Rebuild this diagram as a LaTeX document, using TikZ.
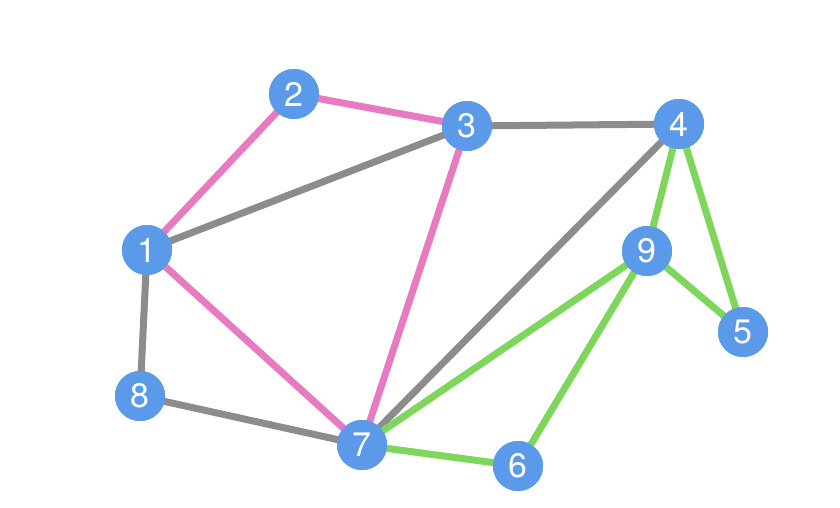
\documentclass[tikz,border=0pt]{standalone}
\usepackage{fontspec}
\setmainfont{TeX Gyre Heros}
\begin{document}
\begin{tikzpicture}[x=1pt,y=-1pt,
  v/.style={circle,fill=nb,minimum size=50pt,inner sep=0pt,text=white,font=\fontsize{34}{34}\selectfont},
  e/.style={line width=7pt}]
\definecolor{nb}{HTML}{5B9AE9}
\definecolor{eg}{HTML}{8C8C8C}
\definecolor{ep}{HTML}{E77BC1}
\definecolor{egr}{HTML}{7FD65D}
\useasboundingbox (0,0) rectangle (840,508);
\fill[white] (0,0) rectangle (840,508);
\node[v] (n1) at (147,250) {1};
\node[v] (n2) at (294,94) {2};
\node[v] (n3) at (467,126) {3};
\node[v] (n4) at (679,124) {4};
\node[v] (n9) at (647,251) {9};
\node[v] (n5) at (743,332) {5};
\node[v] (n8) at (140,396) {8};
\node[v] (n7) at (362,445) {7};
\node[v] (n6) at (518,466) {6};
\begin{scope}[on background layer/.style={}]
\end{scope}
\begin{pgfonlayer}{main}\end{pgfonlayer}
\draw[e,ep] (n1.center)--(n2.center) (n2.center)--(n3.center) (n3.center)--(n7.center) (n1.center)--(n7.center);
\draw[e,eg] (n1.center)--(n3.center) (n3.center)--(n4.center) (n4.center)--(n7.center) (n1.center)--(n8.center) (n8.center)--(n7.center);
\draw[e,egr] (n4.center)--(n9.center) (n4.center)--(n5.center) (n9.center)--(n5.center) (n9.center)--(n7.center) (n9.center)--(n6.center) (n7.center)--(n6.center);
\foreach \n/\p/\t in {n1/{147,250}/1,n2/{294,94}/2,n3/{467,126}/3,n4/{679,124}/4,n9/{647,251}/9,n5/{743,332}/5,n8/{140,396}/8,n7/{362,445}/7,n6/{518,466}/6}
  \node[v] at (\p) {\t};
\end{tikzpicture}
\end{document}
